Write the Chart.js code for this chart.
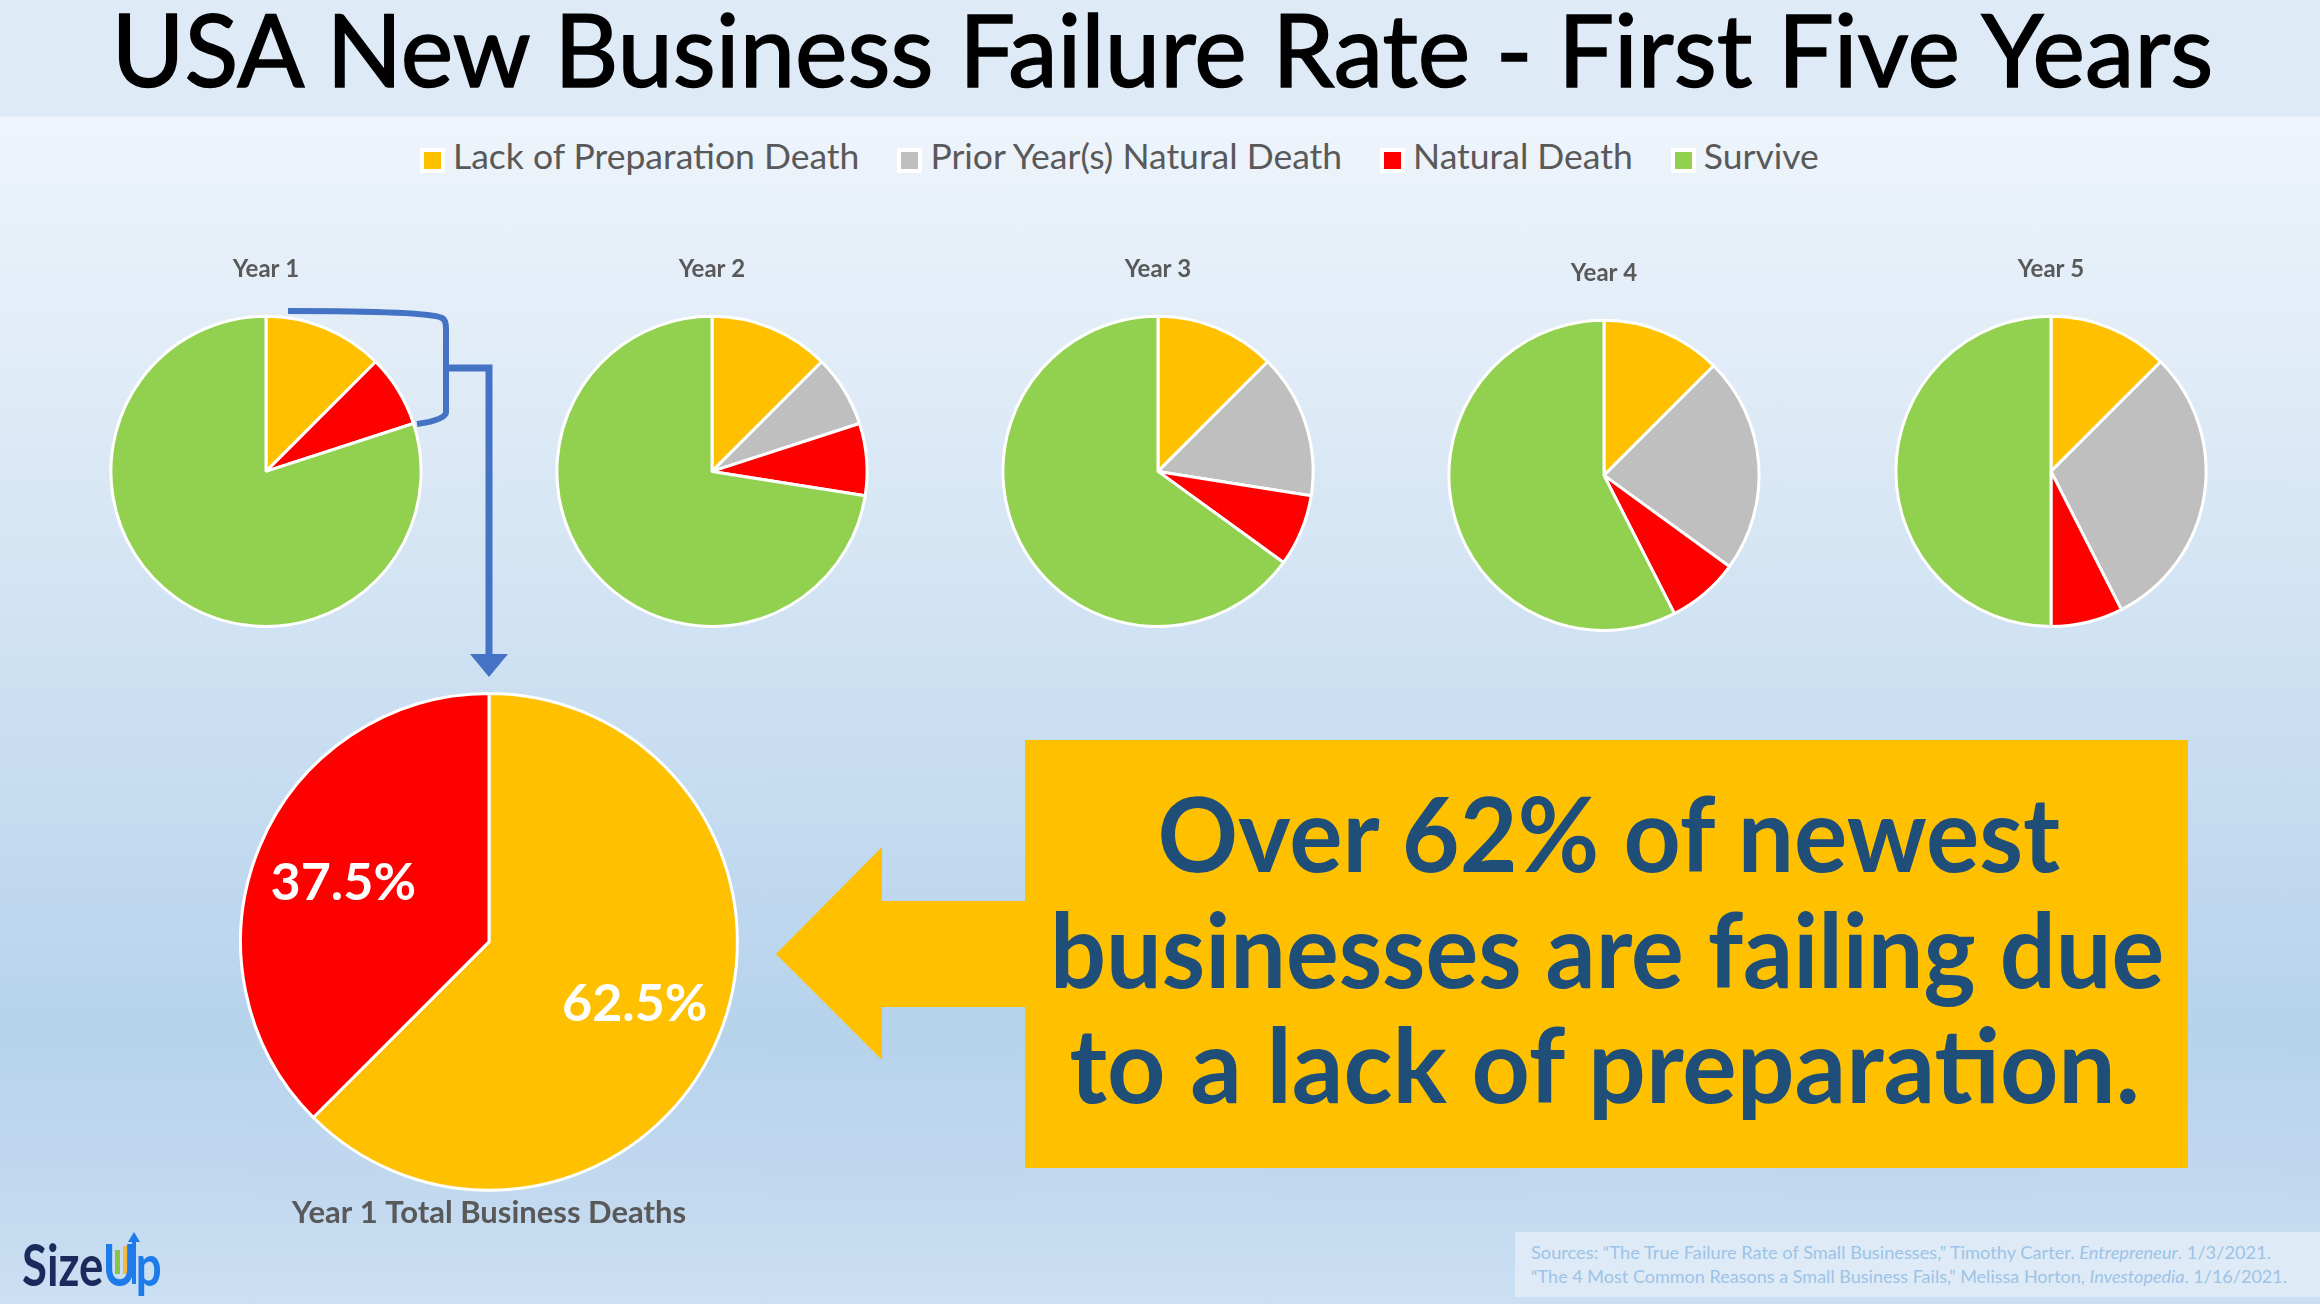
<!DOCTYPE html>
<html>
<head>
<meta charset="utf-8">
<title>USA New Business Failure Rate - First Five Years</title>
<script src="https://cdn.jsdelivr.net/npm/chart.js@4.4.1/dist/chart.umd.min.js"></script>
<style>
html, body { margin: 0; padding: 0; }
body {
    width: 2320px; height: 1304px; overflow: hidden; position: relative;
    font-family: Lato, "Open Sans", sans-serif;
    background: linear-gradient(to bottom, #DEEAF6 0px, #DEEAF6 116px, #EEF4FB 117px, #DDEAF6 420px,
        #C8DDF1 760px, #B6D3EC 1030px, #C2D9EF 1200px, #CCE0F3 1304px);
}
.abs { position: absolute; }
.txt { position: absolute; white-space: nowrap; line-height: 1; transform-origin: 50% 50%; }
canvas { position: absolute; }
#legend { position: absolute; left: 420px; top: 138px; display: flex; align-items: center; }
.lg-item { display: flex; align-items: center; margin-right: 38px; }
.lg-box { width: 17px; height: 17px; border: 4px solid #fff; margin-right: 8px; margin-top: 10px; }
.lg-text { font-size: 35.5px; color: #595959; line-height: 1; }
</style>
</head>
<body>

<svg class="abs" style="left:0;top:0" width="2320" height="1304">
    <!-- callout arrow + box -->
    <polygon points="776,954 882,847 882,901 1025,901 1025,1007 882,1007 882,1060" fill="#FFC000"/>
    <rect x="1025" y="740" width="1163" height="428" fill="#FFC000"/>
    <!-- sources box -->
    <rect x="1515" y="1232" width="805" height="65" fill="#DEEBF7"/>
    <!-- bracket from year 1 deaths to the big pie -->
    <path d="M288 311 C360 311 430 312 442 318 Q446 320 446 328 L446 412 Q446 420 417 424"
          fill="none" stroke="#4472C4" stroke-width="6"/>
    <path d="M446 368 L489 368 L489 656" fill="none" stroke="#4472C4" stroke-width="7"/>
    <polygon points="470,654 508,654 489,677" fill="#4472C4"/>
    <!-- logo arrow and bars -->
    <path d="M134 1284 L134 1240" stroke="#1E7BEA" stroke-width="4" fill="none"/>
    <polygon points="128,1242 140,1242 134,1232" fill="#1E7BEA"/>
    <rect x="115" y="1250" width="5" height="24" fill="#8BC34A"/>
    <rect x="123" y="1246" width="6" height="28" fill="#F4B940"/>
</svg>

<div id="legend"></div>

<script>
// ---- data ----
const years = ["Year 1", "Year 2", "Year 3", "Year 4", "Year 5"];
const seriesLabels = ["Lack of Preparation Death", "Prior Year(s) Natural Death", "Natural Death", "Survive"];
const lackOfPrep = [12.5, 12.5, 12.5, 12.5, 12.5];
const priorNatural = [0, 7.5, 15, 22.5, 30];
const naturalDeath = [7.5, 7.5, 7.5, 7.5, 7.5];
const survive = [80, 72.5, 65, 57.5, 50];

const deathLabels = ["Lack of Preparation Death", "Natural Death"];
const year1Deaths = [62.5, 37.5];

// ---- styles / layout ----
const seriesColors = ["#FFC000", "#BFBFBF", "#FF0000", "#92D050"];
const deathColors = ["#FFC000", "#FF0000"];
const pieX = [266, 712, 1158, 1604, 2051];
const pieShift = [0, 0, 0, 4, 0];

// text placed by centre x and baseline, squeezed to a width if given
function addText(str, cx, baseline, size, opts) {
    opts = opts || {};
    const el = document.createElement("div");
    el.className = "txt";
    el.style.fontSize = size + "px";
    el.style.fontWeight = opts.weight || "400";
    el.style.color = opts.color || "#000";
    if (opts.stroke) el.style.webkitTextStroke = opts.stroke + "px " + (opts.color || "#000");
    if (opts.html) el.innerHTML = str; else el.textContent = str;
    document.body.appendChild(el);
    const w = el.offsetWidth;
    const sx = opts.width ? opts.width / w : 1;
    if (opts.left !== undefined) {
        el.style.left = opts.left + "px";
        el.style.transformOrigin = "0 50%";
    } else {
        el.style.left = (cx - w / 2) + "px";
    }
    el.style.top = (baseline - 0.887 * size) + "px";
    el.style.transform = "scaleX(" + sx + ")";
    return el;
}

addText("USA New Business Failure Rate - First Five Years", 1162, 88, 101, {width: 2102, weight: "400", stroke: 1.5});

addText("Over 62% of newest", 1609, 872, 103, {width: 903, weight: "700", color: "#1F4E79"});
addText("businesses are failing due", 1607, 988, 103, {width: 1114, weight: "700", color: "#1F4E79"});
addText("to a lack of preparation.", 1604, 1103, 103, {width: 1070, weight: "700", color: "#1F4E79"});

addText("Sources: \u201cThe True Failure Rate of Small Businesses,\u201d Timothy Carter. <i>Entrepreneur</i>. 1/3/2021.",
    0, 1259, 18, {html: true, left: 1531, width: 740, color: "#9DC3E6"});
addText("\u201cThe 4 Most Common Reasons a Small Business Fails,\u201d Melissa Horton, <i>Investopedia</i>. 1/16/2021.",
    0, 1283, 18, {html: true, left: 1531, width: 756, color: "#9DC3E6"});

addText("<span style='color:#1A2A5C'>Size</span><span style='color:#1E7BEA'>Up</span>",
    0, 1286, 58, {html: true, left: 22, width: 140, weight: "700"});

// legend from series
const legend = document.getElementById("legend");
seriesLabels.forEach(function (lbl, i) {
    const item = document.createElement("div");
    item.className = "lg-item";
    item.innerHTML = "<div class='lg-box' style='background:" + seriesColors[i] + "'></div>" +
        "<div class='lg-text'>" + lbl + "</div>";
    legend.appendChild(item);
});

// ---- small pies ----
years.forEach(function (yr, i) {
    const cv = document.createElement("canvas");
    cv.width = 340; cv.height = 373;
    cv.style.left = (pieX[i] - 170) + "px";
    cv.style.top = (255 + pieShift[i]) + "px";
    document.body.appendChild(cv);
    new Chart(cv, {
        type: "pie",
        data: {
            labels: seriesLabels,
            datasets: [{
                data: [lackOfPrep[i], priorNatural[i], naturalDeath[i], survive[i]],
                backgroundColor: seriesColors,
                borderColor: "#FFFFFF",
                borderWidth: 3
            }]
        },
        options: {
            responsive: false,
            animation: false,
            devicePixelRatio: 1,
            plugins: {
                legend: { display: false },
                tooltip: { enabled: false },
                title: {
                    display: true,
                    text: yr,
                    color: "#595959",
                    font: { family: "Lato", size: 24, weight: "bold" },
                    padding: { top: 0, bottom: 31 }
                }
            }
        }
    });
});

// ---- big pie: Year 1 deaths ----
const pctLabels = {
    id: "pctLabels",
    afterDatasetsDraw(chart) {
        const ctx = chart.ctx;
        const meta = chart.getDatasetMeta(0);
        const vals = chart.data.datasets[0].data;
        ctx.save();
        ctx.fillStyle = "#FFFFFF";
        ctx.font = "bold 52px Lato";
        ctx.textAlign = "center";
        ctx.textBaseline = "alphabetic";
        meta.data.forEach(function (arc, i) {
            const p = arc.getProps(["x", "y", "startAngle", "endAngle", "outerRadius"], true);
            const mid = (p.startAngle + p.endAngle) / 2;
            const r = p.outerRadius * 0.635;
            ctx.fillText(vals[i].toFixed(1) + "%", p.x + Math.cos(mid) * r, p.y + Math.sin(mid) * r + 18.5);
        });
        ctx.restore();
    }
};

const big = document.createElement("canvas");
big.width = 500; big.height = 540;
big.style.left = "239px";
big.style.top = "692px";
document.body.appendChild(big);
new Chart(big, {
    type: "pie",
    data: {
        labels: deathLabels,
        datasets: [{
            data: year1Deaths,
            backgroundColor: deathColors,
            borderColor: "#FFFFFF",
            borderWidth: 3
        }]
    },
    options: {
        responsive: false,
        animation: false,
        devicePixelRatio: 1,
        plugins: {
            legend: { display: false },
            tooltip: { enabled: false },
            title: {
                display: true,
                position: "bottom",
                text: "Year 1 Total Business Deaths",
                color: "#595959",
                font: { family: "Lato", size: 31, weight: "bold" },
                padding: { top: 3, bottom: 0 }
            }
        }
    },
    plugins: [pctLabels]
});
</script>
</body>
</html>
